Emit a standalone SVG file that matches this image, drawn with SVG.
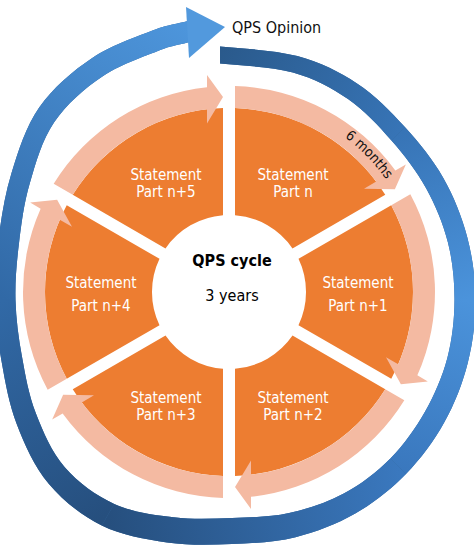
<svg xmlns="http://www.w3.org/2000/svg" width="474" height="548" viewBox="0 0 474 548">
<style>
.seg{fill:#ED7D31}
.arr{fill:#F4BAA2}
.t{font-family:"DejaVu Sans Condensed","DejaVu Sans",sans-serif;font-stretch:condensed}
.lbl{font-size:15px;fill:#ffffff;text-anchor:middle}
</style>
<defs>
<path id="sector" d="M 235 108.1 A 184 184 0 0 1 385.26 194.85 L 292.48 248.42 A 77 77 0 0 0 235 215.2 Z"/>
<path id="parr" d="M 207 75.1 L 223 97 L 207 123.4 L 207 109.3 A 184 184 0 0 0 72.74 194.85 L 53.68 183.85 A 206 206 0 0 1 207 87.2 Z"/>
<path id="arc6" d="M 280.98 105.81 A 193.3 193.3 0 0 1 416.23 243.93"/>
<linearGradient id="gA" gradientUnits="userSpaceOnUse" x1="220" y1="55" x2="398" y2="134"><stop offset="0" stop-color="#2A5A8C"/><stop offset="1" stop-color="#3774B6"/></linearGradient>
<linearGradient id="gB" gradientUnits="userSpaceOnUse" x1="398" y1="134" x2="465" y2="300"><stop offset="0" stop-color="#3774B6"/><stop offset="1" stop-color="#4B93DB"/></linearGradient>
<linearGradient id="gC" gradientUnits="userSpaceOnUse" x1="465" y1="300" x2="398" y2="466"><stop offset="0" stop-color="#4B93DB"/><stop offset="1" stop-color="#3A78BE"/></linearGradient>
<linearGradient id="gD" gradientUnits="userSpaceOnUse" x1="398" y1="466" x2="108" y2="515"><stop offset="0" stop-color="#3A78BE"/><stop offset="1" stop-color="#264F7E"/></linearGradient>
<linearGradient id="gE" gradientUnits="userSpaceOnUse" x1="108" y1="515" x2="5" y2="300"><stop offset="0" stop-color="#264F7E"/><stop offset="1" stop-color="#3169A6"/></linearGradient>
<linearGradient id="gF" gradientUnits="userSpaceOnUse" x1="5" y1="300" x2="190" y2="31"><stop offset="0" stop-color="#3169A6"/><stop offset="1" stop-color="#4D95DB"/></linearGradient>
</defs>

<g id="connectors">
<g id="qps-opinion-arrow">
<path fill="#33679E" d="M220,46.5 C245.8,49 274.52,49.94 297.35,56.11 C320.18,62.28 339.08,71.67 357,83.5 C374.92,95.33 390.51,111.36 404.89,127.11 C419.27,142.86 432.91,159.69 443.3,178 C453.69,196.31 461.83,216.65 467.2,236.98 C472.57,257.31 475.42,278.97 475.5,300 C475.58,321.03 472.9,342.73 467.68,363.15 C462.46,383.57 454.46,404.03 444.17,422.5 C433.88,440.97 420.77,458.79 405.95,473.95 C391.13,489.11 373.65,503.04 355.25,513.47 C336.85,523.9 316.08,532.04 295.54,537.13 C275,542.22 253.42,543.11 232,544 C210.58,544.89 188.75,545.51 167.04,542.44 C145.33,539.37 121.51,535.42 101.75,525.59 C81.99,515.76 62.67,500.38 48.51,483.49 C34.35,466.6 24.61,444.55 16.8,424.25 C8.99,403.95 5.35,382.43 1.63,361.72 C-2.09,341.01 -5.02,320.7 -5.5,300 C-5.98,279.3 -4.11,258.71 -1.26,237.5 C1.59,216.29 4.84,194.45 11.6,172.75 C18.36,151.05 25.88,126.45 39.32,107.32 C52.76,88.19 72.28,71.15 92.25,57.95 C112.22,44.75 143.22,34.26 159.15,28.1 C165.52,25.64 178.26,23.35 187.82,20.97 L191.1,41.72 C182.26,43.94 170.47,46.08 164.58,48.38 C149.85,54.12 121.15,63.84 102.75,76.14 C84.35,88.44 66.32,104.31 54.16,122.16 C42,140.01 35.65,163.12 29.79,183.25 C23.93,203.38 21.4,223.47 19.02,242.93 C16.64,262.39 15.02,281.11 15.5,300 C15.98,318.89 18.53,337.41 21.92,356.29 C25.31,375.17 28.71,394.76 35.85,413.25 C42.99,431.74 51.7,452.11 64.77,467.23 C77.84,482.35 96.08,495.59 114.25,503.94 C132.42,512.29 154.14,514.99 173.77,517.33 C193.4,519.67 212.78,518.73 232,518 C251.22,517.27 270.44,517.06 289.07,512.98 C307.7,508.9 326.86,502.65 343.75,493.55 C360.64,484.45 376.83,472.07 390.39,458.39 C403.95,444.71 415.62,428.28 425.12,411.5 C434.62,394.72 442.5,376.29 447.4,357.71 C452.3,339.13 454.42,319.26 454.5,300 C454.58,280.74 452.63,260.83 447.88,242.16 C443.13,223.49 435.39,204.94 425.98,188 C416.57,171.06 404.45,155.37 391.45,140.55 C378.45,125.73 364.42,110.44 348,99.1 C331.58,87.76 314.28,78.46 292.95,72.53 C271.62,66.6 244.3,66 220,63.5 Z"/>
<path fill="url(#gA)" d="M220,46.5 C245.8,49 274.52,49.94 297.35,56.11 C320.18,62.28 339.08,71.67 357,83.5 C374.92,95.33 390.51,111.36 404.89,127.11 L391.45,140.55 C378.45,125.73 364.42,110.44 348,99.1 C331.58,87.76 314.28,78.46 292.95,72.53 C271.62,66.6 244.3,66 220,63.5 Z"/>
<path fill="url(#gB)" d="M404.89,127.11 C419.27,142.86 432.91,159.69 443.3,178 C453.69,196.31 461.83,216.65 467.2,236.98 C472.57,257.31 475.42,278.97 475.5,300 L454.5,300 C454.58,280.74 452.63,260.83 447.88,242.16 C443.13,223.49 435.39,204.94 425.98,188 C416.57,171.06 404.45,155.37 391.45,140.55 Z"/>
<path fill="url(#gC)" d="M475.5,300 C475.58,321.03 472.9,342.73 467.68,363.15 C462.46,383.57 454.46,404.03 444.17,422.5 C433.88,440.97 420.77,458.79 405.95,473.95 L390.39,458.39 C403.95,444.71 415.62,428.28 425.12,411.5 C434.62,394.72 442.5,376.29 447.4,357.71 C452.3,339.13 454.42,319.26 454.5,300 Z"/>
<path fill="url(#gD)" d="M405.95,473.95 C391.13,489.11 373.65,503.04 355.25,513.47 C336.85,523.9 316.08,532.04 295.54,537.13 C275,542.22 253.42,543.11 232,544 C210.58,544.89 188.75,545.51 167.04,542.44 C145.33,539.37 121.51,535.42 101.75,525.59 L114.25,503.94 C132.42,512.29 154.14,514.99 173.77,517.33 C193.4,519.67 212.78,518.73 232,518 C251.22,517.27 270.44,517.06 289.07,512.98 C307.7,508.9 326.86,502.65 343.75,493.55 C360.64,484.45 376.83,472.07 390.39,458.39 Z"/>
<path fill="url(#gE)" d="M101.75,525.59 C81.99,515.76 62.67,500.38 48.51,483.49 C34.35,466.6 24.61,444.55 16.8,424.25 C8.99,403.95 5.35,382.43 1.63,361.72 C-2.09,341.01 -5.02,320.7 -5.5,300 L15.5,300 C15.98,318.89 18.53,337.41 21.92,356.29 C25.31,375.17 28.71,394.76 35.85,413.25 C42.99,431.74 51.7,452.11 64.77,467.23 C77.84,482.35 96.08,495.59 114.25,503.94 Z"/>
<path fill="url(#gF)" d="M-5.5,300 C-5.98,279.3 -4.11,258.71 -1.26,237.5 C1.59,216.29 4.84,194.45 11.6,172.75 C18.36,151.05 25.88,126.45 39.32,107.32 C52.76,88.19 72.28,71.15 92.25,57.95 C112.22,44.75 143.22,34.26 159.15,28.1 C165.52,25.64 178.26,23.35 187.82,20.97 L191.1,41.72 C182.26,43.94 170.47,46.08 164.58,48.38 C149.85,54.12 121.15,63.84 102.75,76.14 C84.35,88.44 66.32,104.31 54.16,122.16 C42,140.01 35.65,163.12 29.79,183.25 C23.93,203.38 21.4,223.47 19.02,242.93 C16.64,262.39 15.02,281.11 15.5,300 Z"/>
<polygon fill="#5299DD" points="186,7 225,27 189,58"/>
</g>
</g>

<g id="part-n"><use href="#sector" class="seg"/><text class="t lbl" x="293" y="180">Statement</text><text class="t lbl" x="293" y="197">Part n</text></g>
<g id="part-n1"><use href="#sector" class="seg" transform="rotate(60 229 292)"/><text class="t lbl" x="358" y="288">Statement</text><text class="t lbl" x="358" y="311">Part n+1</text></g>
<g id="part-n2"><use href="#sector" class="seg" transform="rotate(120 229 292)"/><text class="t lbl" x="293" y="403">Statement</text><text class="t lbl" x="293" y="420">Part n+2</text></g>
<g id="part-n3"><use href="#sector" class="seg" transform="rotate(180 229 292)"/><text class="t lbl" x="166" y="403">Statement</text><text class="t lbl" x="166" y="420">Part n+3</text></g>
<g id="part-n4"><use href="#sector" class="seg" transform="rotate(240 229 292)"/><text class="t lbl" x="101" y="288">Statement</text><text class="t lbl" x="101" y="311">Part n+4</text></g>
<g id="part-n5"><use href="#sector" class="seg" transform="rotate(300 229 292)"/><text class="t lbl" x="166" y="180">Statement</text><text class="t lbl" x="166" y="197">Part n+5</text></g>

<g id="cycle-arrows">
<use href="#parr" class="arr"/>
<use href="#parr" class="arr" transform="rotate(60 229 292)"/>
<use href="#parr" class="arr" transform="rotate(120 229 292)"/>
<use href="#parr" class="arr" transform="rotate(180 229 292)"/>
<use href="#parr" class="arr" transform="rotate(240 229 292)"/>
<use href="#parr" class="arr" transform="rotate(300 229 292)"/>
<text class="t" font-size="14" fill="#111111"><textPath href="#arc6" startOffset="50%" text-anchor="middle">6 months</textPath></text>
</g>

<g id="center">
<text class="t" x="232" y="266" font-size="16" font-weight="bold" fill="#000000" text-anchor="middle">QPS cycle</text>
<text class="t" x="232" y="301" font-size="16" fill="#000000" text-anchor="middle">3 years</text>
</g>

<g id="opinion">
<text class="t" x="232" y="33" font-size="16" fill="#111111">QPS Opinion</text>
</g>
</svg>
